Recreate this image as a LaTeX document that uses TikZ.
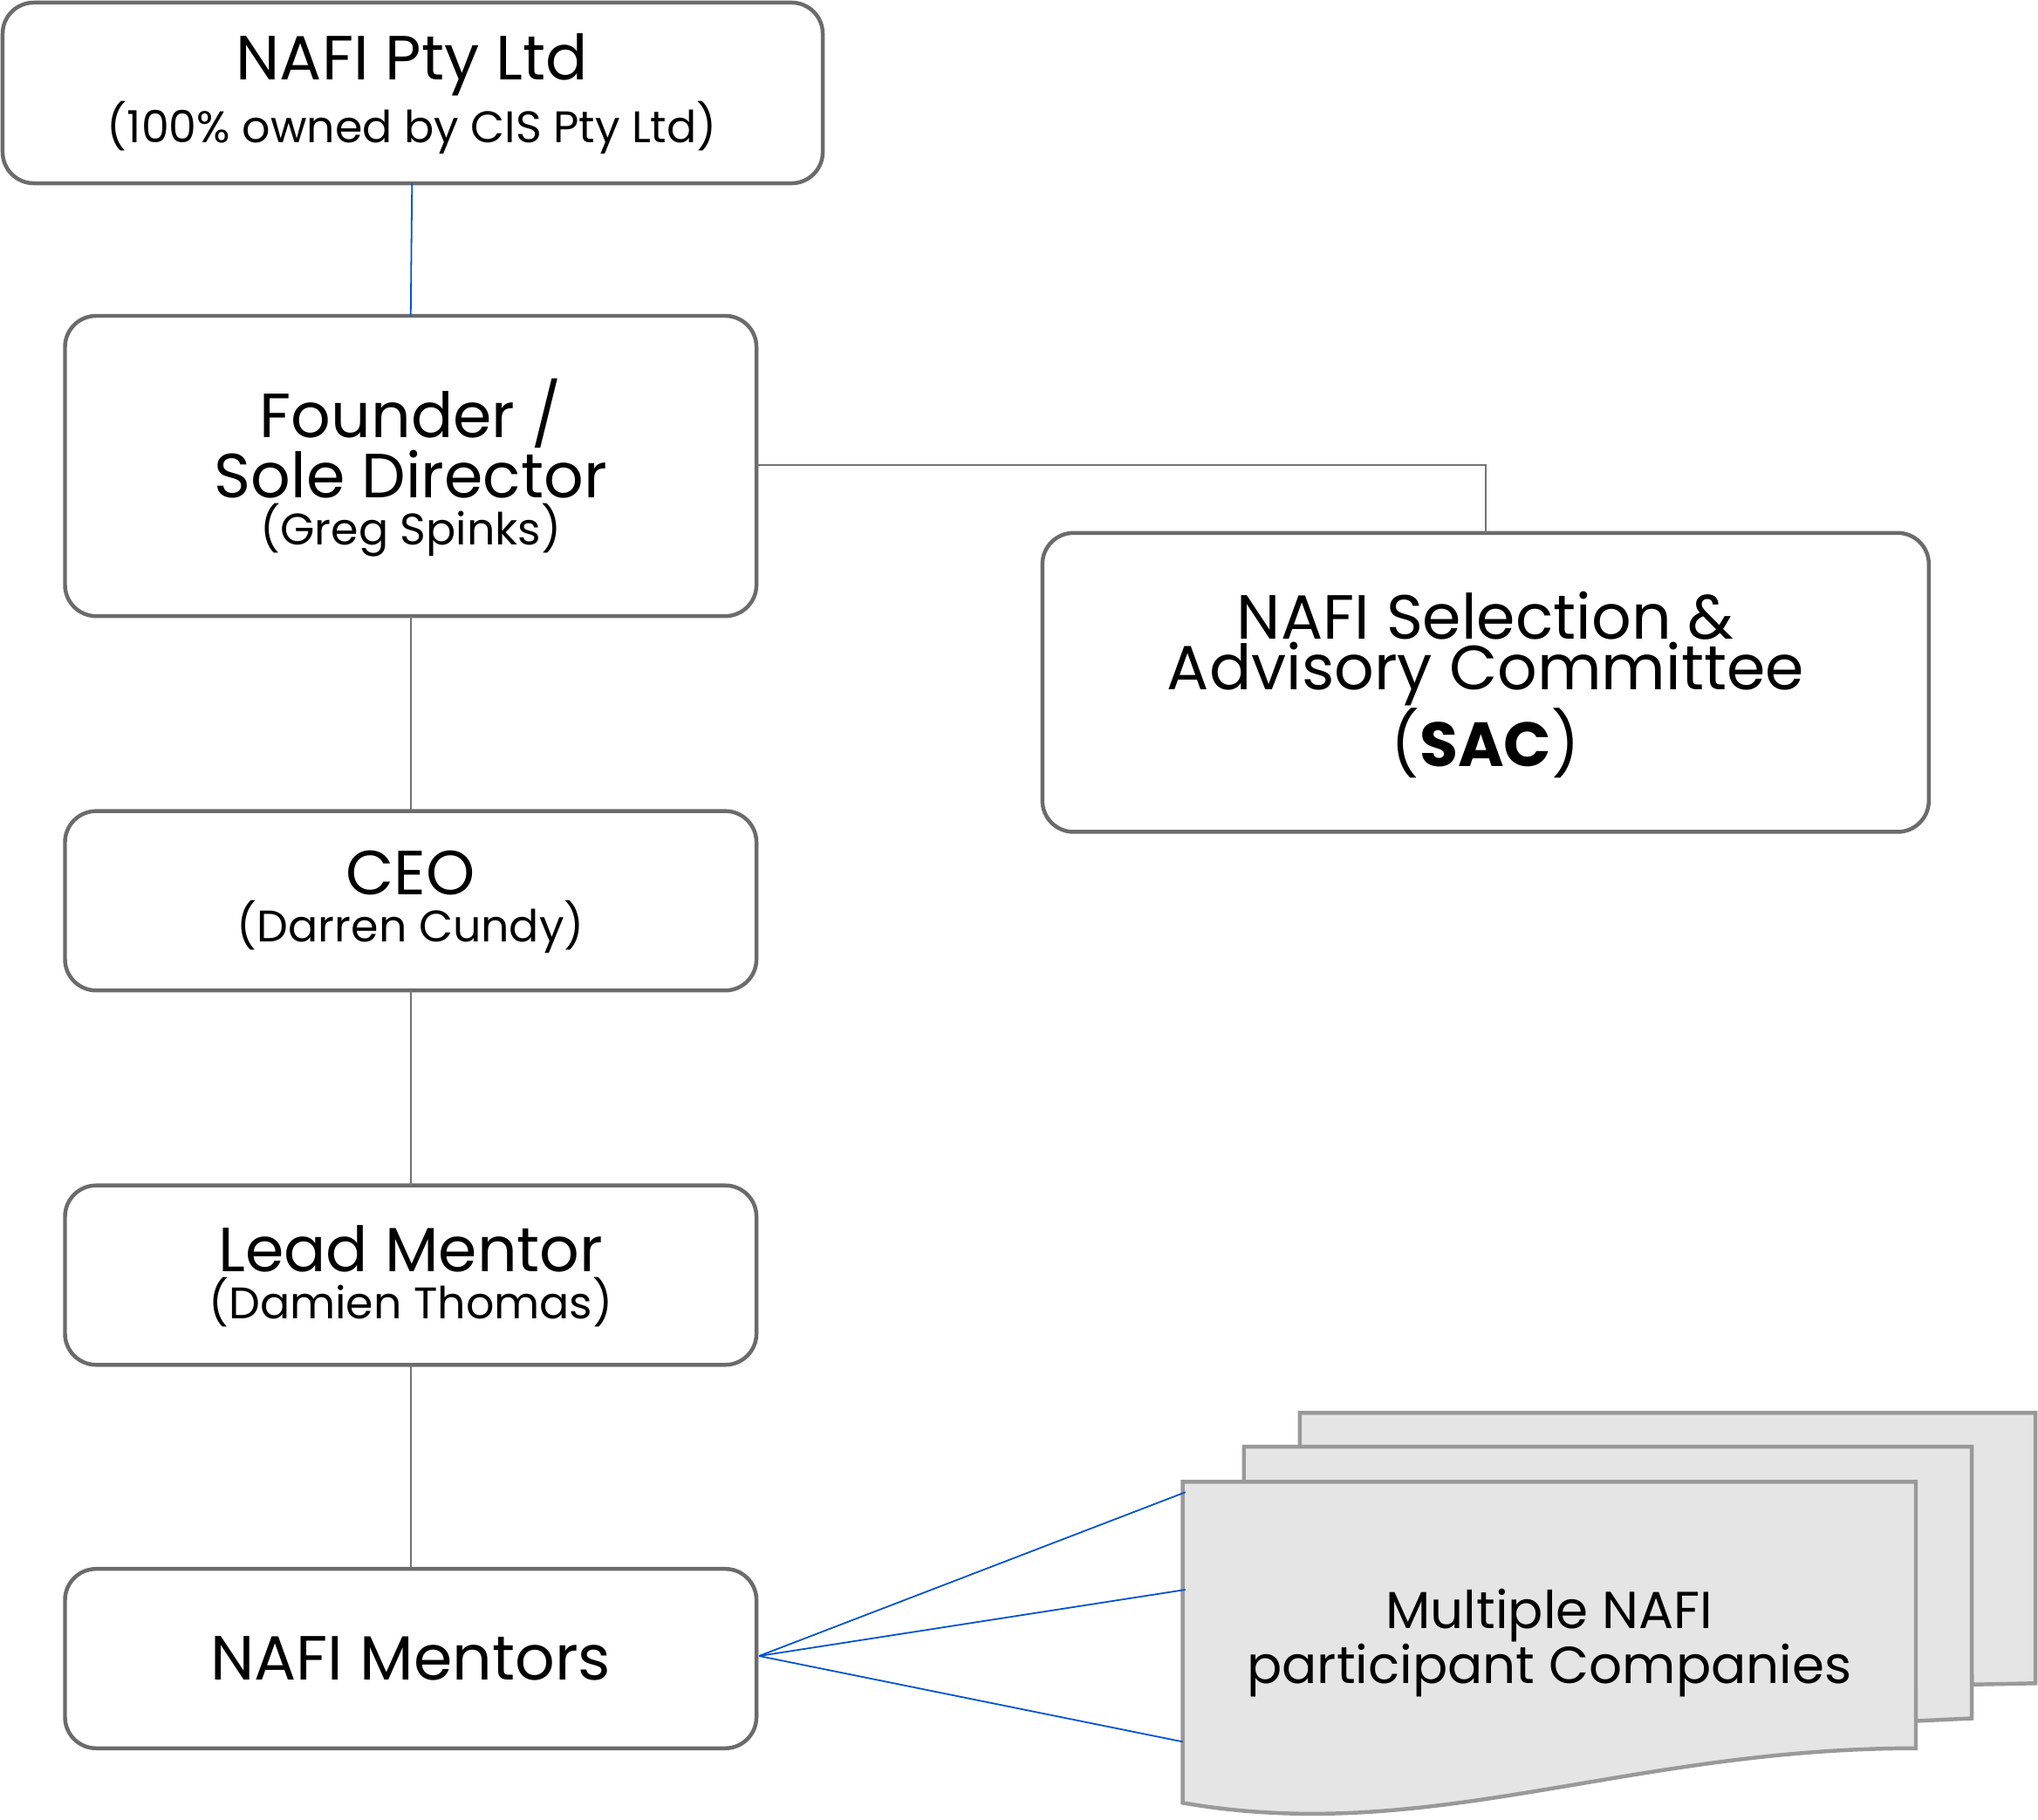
\documentclass[tikz,border=0pt]{standalone}
\usepackage{fontspec}
\setmainfont{Poppins}
\newcommand\bigf{\fontsize{24}{30}\selectfont}
\newcommand\smf{\fontsize{17}{24}\selectfont}
\begin{document}
\begin{tikzpicture}[x=0.5pt,y=-0.5pt,
  box/.style={draw=black!58,line width=1.5pt,rounded corners=12pt,fill=white,inner sep=0pt},
  lbl/.style={align=center,inner sep=0pt},
  gl/.style={draw=black!55,line width=0.6pt},
  bl/.style={draw=blue!60!cyan!80!black,line width=0.6pt},
  doc/.style={draw=black!40,fill=black!10,line width=1.5pt}]
\useasboundingbox (0,0) rectangle (1568,1400);
% boxes
\draw[box] (2,2) rectangle (633,141); \coordinate (pA) at (317,141);
\node[lbl] (pty) at (317,72) {\bigf NAFI Pty Ltd\\[1pt] \smf (100\% owned by CIS Pty Ltd)};
\draw[box] (50,243) rectangle (582,474);
\node[lbl] (fd) at (316,360) {\bigf Founder /\\ \bigf Sole Director\\[1pt] \smf (Greg Spinks)};
\coordinate (fT) at (316,243); \coordinate (fB) at (316,474); \coordinate (fR) at (582,358);
\draw[box] (802,410) rectangle (1484,640);
\node[lbl] (sac) at (1143,527) {\bigf NAFI Selection \&\\ \bigf Advisory Committee\\ \bigf (\textbf{SAC})};
\coordinate (sT) at (1143,410); \coordinate (corner) at (1143,358);
\draw[box] (50,624) rectangle (582,762);
\node[lbl] (ceo) at (316,694) {\bigf CEO\\[1pt] \smf (Darren Cundy)};
\coordinate (cT) at (316,624); \coordinate (cB) at (316,762);
\draw[box] (50,912) rectangle (582,1050);
\node[lbl] (lm) at (316,982) {\bigf Lead Mentor\\[1pt] \smf (Damien Thomas)};
\coordinate (lT) at (316,912); \coordinate (lB) at (316,1050);
\draw[box] (50,1207) rectangle (582,1345);
\node[lbl,font=\bigf] (nm) at (316,1276) {NAFI Mentors};
\coordinate (mT) at (316,1207); \coordinate (mR) at (584,1274);
% documents
\draw[doc] (1000,1087) -- (1566,1087) -- (1566,1295) -- (1517,1296) -- (1517,1290) -- (1000,1290) -- cycle;
\draw[doc] (957,1113) -- (1517,1113) -- (1517,1322) -- (1474,1324) -- (1474,1300) -- (957,1300) -- cycle;
\draw[doc] (910,1140) -- (1474,1140) -- (1474,1345) .. controls (1250,1345) and (1100,1420) .. (910,1387) -- cycle;
\node[lbl] (mc) at (1192,1264) {\fontsize{20}{26}\selectfont Multiple NAFI\\ \fontsize{20}{26}\selectfont participant Companies};
\coordinate (d1) at (912,1148); \coordinate (d2) at (912,1223); \coordinate (d3) at (910,1340);
% connectors
\draw[bl] (pA) -- (fT);
\draw[gl] (fB) -- (cT);
\draw[gl] (cB) -- (lT);
\draw[gl] (lB) -- (mT);
\draw[gl] (fR) -- (corner) -- (sT);
\draw[bl] (mR) -- (d1);
\draw[bl] (mR) -- (d2);
\draw[bl] (mR) -- (d3);
\end{tikzpicture}
\end{document}
